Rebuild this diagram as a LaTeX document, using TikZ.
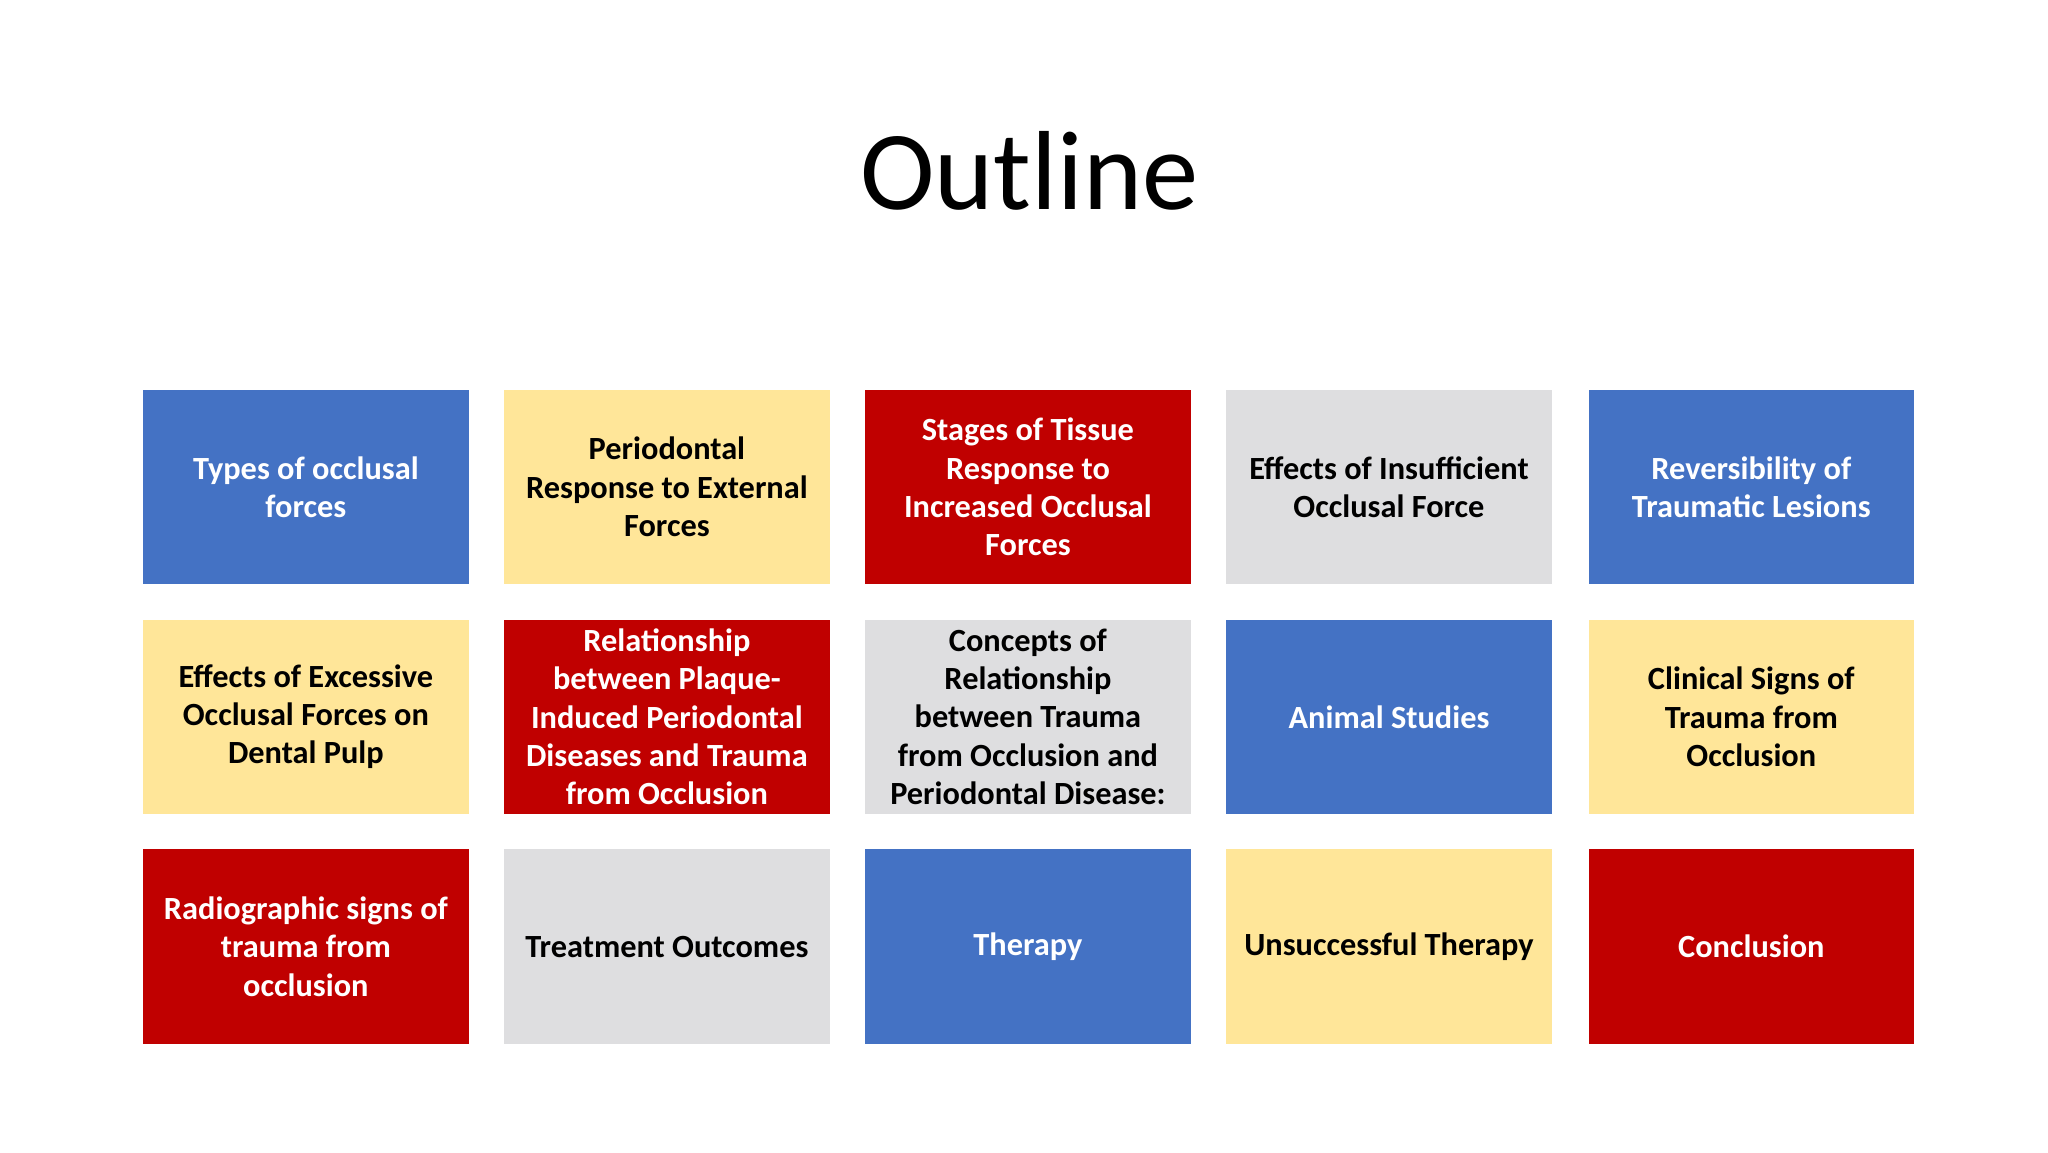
\documentclass[tikz,border=0pt]{standalone}
\usepackage{fontspec}
\setmainfont{Carlito}
\definecolor{cb}{HTML}{4472C4}
\definecolor{cy}{HTML}{FFE699}
\definecolor{cr}{HTML}{C00000}
\definecolor{cg}{HTML}{DEDEE0}
\begin{document}
\begin{tikzpicture}[x=0.013128cm,y=-0.013128cm,
  box/.style={minimum width=248*0.013128cm,minimum height=148*0.013128cm,inner sep=0pt,align=center,font=\fontsize{9.2}{10.9}\selectfont\bfseries},
  B/.style={box,fill=cb,text=white},
  Y/.style={box,fill=cy,text=black},
  R/.style={box,fill=cr,text=white},
  G/.style={box,fill=cg,text=black}]
\useasboundingbox (0,0) rectangle (1560,877.5);
\node (t) at (784,130) {\fontsize{32}{36}\selectfont Outline};
\node[B] (a1) at (233,371) {Types of occlusal\\forces};
\node[Y] (a2) at (508,371) {Periodontal\\Response to External\\Forces};
\node[R] (a3) at (783,371) {Stages of Tissue\\Response to\\Increased Occlusal\\Forces};
\node[G] (a4) at (1058,371) {Effects of Insufficient\\Occlusal Force};
\node[B] (a5) at (1334,371) {Reversibility of\\Traumatic Lesions};
\node[Y] (b1) at (233,546) {Effects of Excessive\\Occlusal Forces on\\Dental Pulp};
\node[R] (b2) at (508,546) {Relationship\\between Plaque-\\Induced Periodontal\\Diseases and Trauma\\from Occlusion};
\node[G] (b3) at (783,546) {Concepts of\\Relationship\\between Trauma\\from Occlusion and\\Periodontal Disease:};
\node[B] (b4) at (1058,546) {Animal Studies};
\node[Y] (b5) at (1334,546) {Clinical Signs of\\Trauma from\\Occlusion};
\node[R] (c1) at (233,721) {Radiographic signs of\\trauma from\\occlusion};
\node[G] (c2) at (508,721) {Treatment Outcomes};
\node[B] (c3) at (783,721) {Therapy};
\node[Y] (c4) at (1058,721) {Unsuccessful Therapy};
\node[R] (c5) at (1334,721) {Conclusion};
\end{tikzpicture}
\end{document}
